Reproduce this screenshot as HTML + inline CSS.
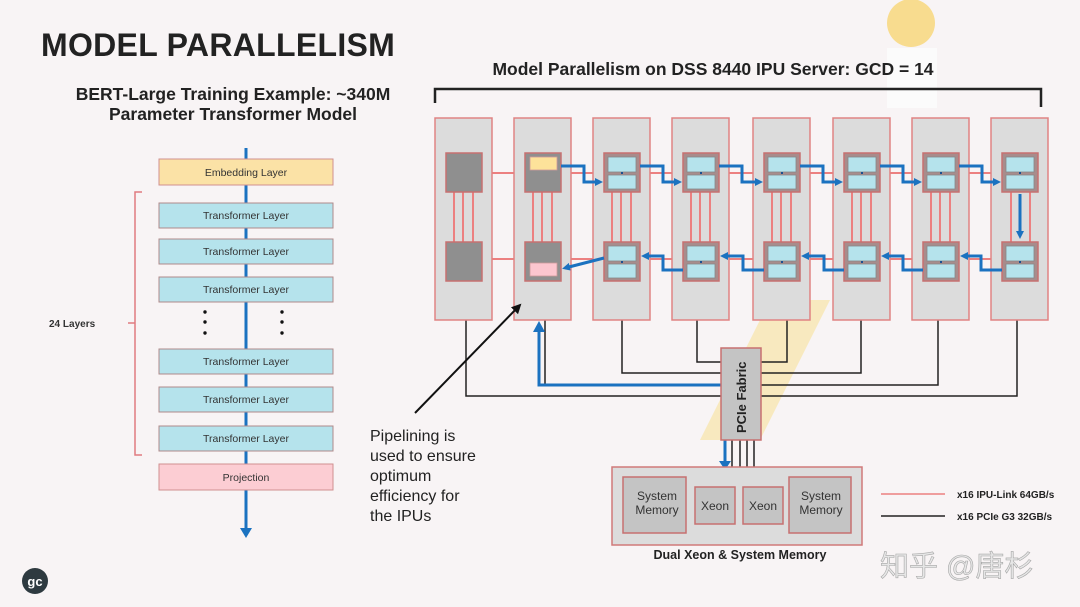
<!DOCTYPE html>
<html><head><meta charset="utf-8"><style>
html,body{margin:0;padding:0;background:#f8f4f5;}
svg{display:block;font-family:"Liberation Sans","Noto Sans CJK SC",sans-serif;}
</style></head><body>
<svg width="1080" height="607" viewBox="0 0 1080 607" xmlns="http://www.w3.org/2000/svg">
<defs>
<marker id="ab" markerWidth="8" markerHeight="8" refX="5" refY="4" orient="auto" markerUnits="userSpaceOnUse"><path d="M0,0 L8,4 L0,8 Z" fill="#1b72c0"/></marker>
<marker id="ak" markerWidth="10" markerHeight="10" refX="8" refY="5" orient="auto" markerUnits="userSpaceOnUse"><path d="M0,0 L10,5 L0,10 Z" fill="#111"/></marker>
<g id="chipC">
<rect x="0" y="0" width="36" height="39" fill="#a88c8c" stroke="#c77070" stroke-width="1.5"/>
<rect x="4" y="4" width="28" height="15" fill="#b5e3ec" stroke="#888" stroke-width="0.8"/>
<rect x="4" y="22" width="28" height="14" fill="#b5e3ec" stroke="#888" stroke-width="0.8"/>
<rect x="17" y="19" width="2" height="2" fill="#1b4f90"/>
</g>
<g id="col">
<rect x="0" y="118" width="57" height="202" fill="#dcdcdc" stroke="#e08383" stroke-width="1.5"/>
<line x1="19" y1="192" x2="19" y2="242" stroke="#ec8080" stroke-width="2"/>
<line x1="28" y1="192" x2="28" y2="242" stroke="#ec8080" stroke-width="2"/>
<line x1="38" y1="192" x2="38" y2="242" stroke="#ec8080" stroke-width="2"/>
</g>
</defs>

<circle cx="911" cy="23" r="24" fill="#f8dc8f"/>
<rect x="887" y="48" width="50" height="60" fill="#fbfbfb"/>
<polygon points="700,440 760,440 830,300 770,300" fill="#f8e4a8" opacity="0.7"/>

<text x="41" y="56" font-size="32" font-weight="bold" fill="#222" letter-spacing="0.3">MODEL PARALLELISM</text>
<text x="233" y="100" font-size="17.5" font-weight="bold" fill="#222" text-anchor="middle">BERT-Large Training Example: ~340M</text>
<text x="233" y="120" font-size="17.5" font-weight="bold" fill="#222" text-anchor="middle">Parameter Transformer Model</text>
<text x="713" y="75" font-size="17.5" font-weight="bold" fill="#222" text-anchor="middle">Model Parallelism on DSS 8440 IPU Server: GCD = 14</text>
<path d="M435,103 L435,89 L1041,89 L1041,107" fill="none" stroke="#222" stroke-width="2.5"/>

<line x1="246" y1="148" x2="246" y2="530" stroke="#1b72c0" stroke-width="3"/>
<path d="M240,528 L252,528 L246,538 Z" fill="#1b72c0"/>
<g font-size="10.5" fill="#333" text-anchor="middle">
<rect x="159" y="159" width="174" height="26" fill="#fbe2a6" stroke="#d09090"/><text x="246" y="176">Embedding Layer</text>
<rect x="159" y="203" width="174" height="25" fill="#b5e3ec" stroke="#b08a8a"/><text x="246" y="219">Transformer Layer</text>
<rect x="159" y="239" width="174" height="25" fill="#b5e3ec" stroke="#b08a8a"/><text x="246" y="255">Transformer Layer</text>
<rect x="159" y="277" width="174" height="25" fill="#b5e3ec" stroke="#b08a8a"/><text x="246" y="293">Transformer Layer</text>
<rect x="159" y="349" width="174" height="25" fill="#b5e3ec" stroke="#b08a8a"/><text x="246" y="365">Transformer Layer</text>
<rect x="159" y="387" width="174" height="25" fill="#b5e3ec" stroke="#b08a8a"/><text x="246" y="403">Transformer Layer</text>
<rect x="159" y="426" width="174" height="25" fill="#b5e3ec" stroke="#b08a8a"/><text x="246" y="442">Transformer Layer</text>
<rect x="159" y="464" width="174" height="26" fill="#fccdd3" stroke="#d09090"/><text x="246" y="481">Projection</text>
</g>
<g fill="#111"><circle cx="205" cy="312" r="1.7"/><circle cx="205" cy="322" r="1.7"/><circle cx="205" cy="333" r="1.7"/>
<circle cx="282" cy="312" r="1.7"/><circle cx="282" cy="322" r="1.7"/><circle cx="282" cy="333" r="1.7"/></g>
<path d="M142,192 L135,192 L135,455 L142,455 M135,323 L128,323" fill="none" stroke="#e07b80" stroke-width="1.5"/>
<text x="49" y="327" font-size="10" font-weight="bold" fill="#333">24 Layers</text>

<g fill="none" stroke="#222" stroke-width="1.5">
<path d="M466,320 L466,396 L1017,396 L1017,320"/>
<path d="M545,320 L545,385 L938,385 L938,320"/>
<path d="M622,320 L622,373 L861,373 L861,320"/>
<path d="M697,320 L697,362 L787,362 L787,320"/>
<line x1="732" y1="440" x2="732" y2="467"/><line x1="740" y1="440" x2="740" y2="467"/><line x1="747" y1="440" x2="747" y2="467"/><line x1="754" y1="440" x2="754" y2="467"/>
</g>

<line x1="435" y1="173" x2="1048" y2="173" stroke="#ec8080" stroke-width="2"/>
<line x1="435" y1="259" x2="1048" y2="259" stroke="#ec8080" stroke-width="2"/>

<use href="#col" x="435"/><use href="#col" x="514"/><use href="#col" x="593"/><use href="#col" x="672"/>
<use href="#col" x="753"/><use href="#col" x="833"/><use href="#col" x="912"/>
<rect x="991" y="118" width="57" height="202" fill="#dcdcdc" stroke="#e08383" stroke-width="1.5"/>
<line x1="1011" y1="192" x2="1011" y2="242" stroke="#ec8080" stroke-width="2"/>
<line x1="1030" y1="192" x2="1030" y2="242" stroke="#ec8080" stroke-width="2"/>

<rect x="446" y="153" width="36" height="39" fill="#8f8f8f" stroke="#c77070" stroke-width="1.5"/>
<rect x="446" y="242" width="36" height="39" fill="#8f8f8f" stroke="#c77070" stroke-width="1.5"/>
<rect x="525" y="153" width="36" height="39" fill="#8f8f8f" stroke="#c77070" stroke-width="1.5"/>
<rect x="530" y="157" width="27" height="13" fill="#fde29a" stroke="#c99" stroke-width="0.8"/>
<rect x="525" y="242" width="36" height="39" fill="#8f8f8f" stroke="#c77070" stroke-width="1.5"/>
<rect x="530" y="263" width="27" height="13" fill="#fcc6cf" stroke="#c99" stroke-width="0.8"/>
<use href="#chipC" x="604" y="153"/><use href="#chipC" x="604" y="242"/>
<use href="#chipC" x="683" y="153"/><use href="#chipC" x="683" y="242"/>
<use href="#chipC" x="764" y="153"/><use href="#chipC" x="764" y="242"/>
<use href="#chipC" x="844" y="153"/><use href="#chipC" x="844" y="242"/>
<use href="#chipC" x="923" y="153"/><use href="#chipC" x="923" y="242"/>
<use href="#chipC" x="1002" y="153"/><use href="#chipC" x="1002" y="242"/>

<g fill="none" stroke="#1b72c0" stroke-width="3" marker-end="url(#ab)">
<path d="M561,166 L584,166 L584,182 L600,182"/>
<path d="M640,166 L663,166 L663,182 L679,182"/>
<path d="M719,166 L742,166 L742,182 L760,182"/>
<path d="M800,166 L823,166 L823,182 L840,182"/>
<path d="M880,166 L903,166 L903,182 L919,182"/>
<path d="M959,166 L982,166 L982,182 L998,182"/>
<path d="M1020,194 L1020,236"/>
<path d="M1002,270 L981,270 L981,256 L963,256"/>
<path d="M923,270 L903,270 L903,256 L884,256"/>
<path d="M844,270 L824,270 L824,256 L804,256"/>
<path d="M764,270 L743,270 L743,256 L723,256"/>
<path d="M683,270 L663,270 L663,256 L644,256"/>
<path d="M604,258 L565,268"/>
</g>
<path d="M725,466 L725,385 L539,385 L539,330" fill="none" stroke="#1b72c0" stroke-width="3"/>
<path d="M533,332 L545,332 L539,321 Z" fill="#1b72c0"/>
<path d="M719,461 L731,461 L725,470 Z" fill="#1b72c0"/>

<rect x="721" y="348" width="40" height="92" fill="#c4c4c4" stroke="#c77070" stroke-width="1.5"/>
<text transform="translate(746,433) rotate(-90)" font-size="13" font-weight="bold" fill="#222">PCIe Fabric</text>

<line x1="415" y1="413" x2="520" y2="305" stroke="#111" stroke-width="2" marker-end="url(#ak)"/>
<g font-size="16" fill="#222"><text x="370" y="441">Pipelining is</text><text x="370" y="461">used to ensure</text><text x="370" y="481">optimum</text><text x="370" y="501">efficiency for</text><text x="370" y="521">the IPUs</text></g>

<rect x="612" y="467" width="250" height="78" fill="#dcdcdc" stroke="#d07a7a" stroke-width="1.5"/>
<g fill="#c4c4c4" stroke="#c77070" stroke-width="1.5">
<rect x="623" y="477" width="63" height="56"/><rect x="695" y="487" width="40" height="37"/>
<rect x="743" y="487" width="40" height="37"/><rect x="789" y="477" width="62" height="56"/>
</g>
<g font-size="12" fill="#333" text-anchor="middle">
<text x="657" y="500">System</text><text x="657" y="514">Memory</text>
<text x="715" y="510">Xeon</text><text x="763" y="510">Xeon</text>
<text x="821" y="500">System</text><text x="821" y="514">Memory</text>
</g>
<text x="740" y="559" font-size="12.5" font-weight="bold" fill="#222" text-anchor="middle">Dual Xeon &amp; System Memory</text>

<line x1="881" y1="494" x2="945" y2="494" stroke="#ec8080" stroke-width="1.5"/>
<line x1="881" y1="516" x2="945" y2="516" stroke="#222" stroke-width="1.5"/>
<text x="957" y="498" font-size="10" font-weight="bold" fill="#222">x16 IPU-Link 64GB/s</text>
<text x="957" y="520" font-size="10" font-weight="bold" fill="#222">x16 PCIe G3 32GB/s</text>

<text x="880" y="576" font-size="29" fill="#e6e6e6" stroke="#a8a8a8" stroke-width="0.6">知乎 @唐杉</text>

<circle cx="35" cy="581" r="13" fill="#2e3a40"/>
<text x="35" y="586" font-size="13" font-weight="bold" fill="#fff" text-anchor="middle">gc</text>
</svg>
</body></html>
